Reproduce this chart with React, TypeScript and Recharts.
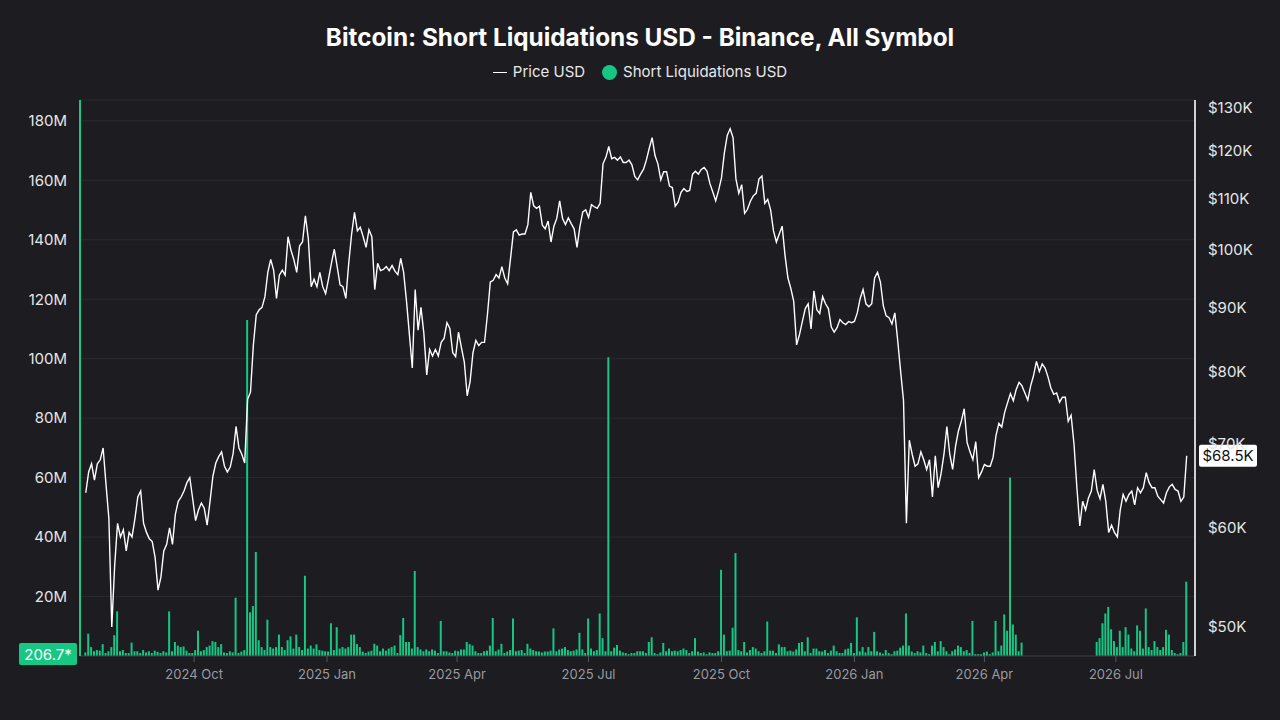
import React from 'react';
import {
  ComposedChart,
  Bar,
  Line,
  XAxis,
  YAxis,
  CartesianGrid,
  ReferenceLine,
} from 'recharts';

const DAY = 86400000;
// one sample every 2 days, first sample 2024-07-18
const startDate = Date.UTC(2024, 6, 18);
const stepDays = 2;

// BTC price, thousands of USD
const priceK = [
  // Jul 18 2024 - Oct 20 2024
  64, 66.5, 67.5, 65.5, 67.5, 68, 69.5, 65, 61, 50, 56, 60.5, 59, 59.8, 57.5, 59.5,
  59, 61, 63.5, 64.2, 60.5, 59.5, 58.8, 58.5, 56.8, 53.5, 54.8, 57.5, 58.2, 60, 58.2, 61.5,
  63, 63.5, 64.2, 65.2, 65.8, 63.3, 60.8, 62, 62.8, 62.2, 60.3, 63, 66, 67.6, 68.4, 69,
  // Oct 22 2024 - Jan 24 2025
  67.2, 66.5, 67.1, 68.8, 72.3, 69.5, 68.7, 67.6, 76, 77, 84, 88.8, 89.6, 90, 91.8, 96,
  98.3, 96.4, 91.5, 95.5, 96.4, 95.5, 102.5, 100, 98.3, 96, 100.8, 101.5, 106.5, 102.2, 93.5, 94.8,
  93.5, 96, 93.5, 92.3, 94.8, 97.6, 100.2, 97, 93.8, 93.5, 91.5, 97.6, 103, 107.2, 103.6, 104.3,
  // Jan 26 2025 - May 2 2025
  102.5, 100.5, 103.8, 102.5, 93, 97.6, 96.3, 96.5, 97, 96.3, 97.2, 96.2, 95.6, 98.5, 96, 91,
  85.6, 80.5, 93, 86.3, 90, 85.8, 79.5, 83.3, 82.3, 83.3, 82.3, 84.4, 85, 87.5, 86.6, 82.8,
  82.2, 86, 83.6, 81.4, 76.5, 78.5, 82.8, 84.7, 83.9, 84.4, 84.4, 88.8, 94.3, 94.6, 95.6, 95, 97,
  // May 4 2025 - Aug 6 2025
  95, 94, 98.5, 103.4, 103.8, 102.8, 103, 103, 104.8, 111.2, 108.5, 108, 108.4, 104.7, 104, 105.5,
  101.5, 104.5, 106, 109.5, 106, 104.8, 106.1, 105, 104, 100.5, 104.4, 107.3, 107.7, 106.2, 108.7, 108.3,
  108, 109, 117.2, 118.6, 121, 118.3, 118.6, 118, 118.7, 117.5, 117.5, 118, 117, 114.5, 113.8, 115,
  // Aug 8 2025 - Nov 12 2025
  116, 118, 120.6, 123, 119, 117.2, 113.8, 115.5, 115.5, 112.5, 112.2, 108.4, 109.2, 111.2, 112, 111.4,
  111.6, 115, 115.6, 115, 116, 116.4, 115.6, 113, 111.3, 109.5, 111.6, 114.2, 119.6, 123.5, 125, 123,
  114, 111, 112.8, 107, 107.8, 109.4, 110.5, 111, 114, 114.6, 109, 109.8, 107.7, 103.6, 101.5, 103, 104.5,
  // Nov 14 2025 - Feb 16 2026
  99, 95, 93.2, 91, 84, 85.6, 87.7, 89.8, 90.6, 86.5, 92.8, 89.6, 89, 91.8, 90.6, 89.8,
  86.8, 86, 86.7, 88, 87.5, 87.2, 87.7, 87.5, 87.7, 89.1, 91.5, 93, 90.6, 90.1, 90.6, 95,
  96, 94.3, 90.3, 88.6, 88.3, 87.3, 89.1, 84.6, 80, 75.8, 60.5, 70.5, 68.7, 67.2, 67.5, 69,
  // Feb 18 2026 - May 25 2026
  68, 66.8, 68, 63.5, 68.5, 64.6, 66.3, 68.7, 72.3, 68.7, 66.8, 69.7, 71.7, 73, 74.7, 70.2,
  69, 68, 70.3, 65.8, 66.5, 67.4, 67.2, 67.2, 68.3, 71.1, 72.7, 72.2, 74.2, 75.5, 76.8, 75.8,
  77.4, 78.4, 77.9, 76.9, 75.9, 77.9, 79.4, 81.5, 80, 81.1, 80.5, 79.2, 77.6, 76.7, 76.9, 75.6, 76.3,
  // May 27 2026 - Aug 19 2026
  76.3, 73, 73.8, 70, 64.6, 60.2, 63, 62, 63.4, 64.2, 66.8, 64.3, 63.3, 65, 63, 59.5,
  60.3, 59.5, 59, 62, 63.8, 63, 63.8, 64.2, 62.6, 64.6, 64, 64.6, 66.4, 65.2, 64.6, 64.6,
  63.6, 63.2, 62.8, 64, 64.7, 65, 64.4, 64.2, 63, 63.5, 68.5,
];

// short liquidations, millions of USD (null = no data)
const shortLiqM = [
  // Jul 18 2024 - Oct 20 2024
  1.2, 7.5, 3, 1.6, 2, 1.8, 4, 1, 1.6, 3, 7, 15, 1.6, 2, 1, 1,
  4.5, 1.6, 1.6, 1, 2, 1.2, 1.6, 1, 1.8, 1.4, 1, 1.6, 1.2, 15, 1.6, 4.7,
  3.5, 3, 3.2, 1.8, 1, 1, 2, 8.5, 1.6, 2, 3, 3.5, 5, 4.7, 3, 4,
  // Oct 22 2024 - Jan 24 2025
  1.2, 1, 1.6, 1.2, 19.6, 1, 1.5, 2, 113, 14.7, 16.8, 35, 5.3, 3, 2, 12.2,
  3, 2.5, 3, 7.2, 3, 2, 5.3, 6.6, 2.5, 7.2, 3, 2, 27, 2.5, 3.5, 2.5,
  3.9, 2, 1.8, 1.6, 1.5, 11, 2, 9.7, 2.5, 3, 2.5, 3, 7.2, 7.2, 4, 3,
  // Jan 26 2025 - May 2 2025
  1.5, 1, 1.5, 1.8, 4.1, 3.5, 1.6, 2.5, 1.8, 2.5, 3, 3.5, 1, 7, 12.8, 4.7,
  4.7, 2.5, 28.6, 3, 2.2, 1.6, 2.2, 1.6, 2.2, 1.8, 1, 11.8, 1.6, 1.6, 1.2, 1,
  1.8, 1.6, 2.2, 2.2, 4.7, 4, 3.5, 1.6, 1, 1, 1.6, 1.8, 3.5, 12.8, 1.6, 2.2, 4.1,
  // May 4 2025 - Aug 6 2025
  1, 1.5, 2, 12.6, 1.6, 1.8, 2, 1, 4.1, 2.5, 2, 1.6, 1.5, 1.2, 1.5, 1.5,
  1.8, 9.3, 1.6, 2.2, 2.5, 3, 2, 1.6, 1.8, 2.2, 7.8, 2.2, 1, 12.6, 2.5, 1.6,
  2, 14.3, 6, 1.6, 100.5, 1.6, 2.8, 3.7, 1.8, 1.2, 1, 0.6, 1, 1, 1.6, 1.6,
  // Aug 8 2025 - Nov 12 2025
  1.6, 1, 4.7, 6.3, 1, 0.6, 1.2, 4.4, 1.6, 2.5, 1.6, 1.8, 1.6, 2, 2.5, 2,
  1, 1.6, 6, 1.5, 1, 1.2, 0.6, 1.2, 1, 1, 1.6, 29, 7.2, 1.6, 1.8, 9.5,
  34.6, 2, 1.6, 4.7, 1.2, 2, 3, 2.5, 1.6, 1, 1.6, 11.6, 1.8, 1.8, 1, 3.9, 3,
  // Nov 14 2025 - Feb 16 2026
  3, 1.6, 1.8, 1.5, 2.2, 4.4, 4.7, 1.6, 6.3, 1, 2.5, 2.5, 1.6, 1.5, 2, 1,
  1.8, 3.5, 1.6, 1, 1, 2.2, 2.5, 4.4, 1, 13, 1.6, 3, 1.2, 3, 1.6, 8.1,
  1.6, 1.2, 0.8, 2, 1, 0.6, 1.6, 1.8, 2.8, 3.5, 14.3, 3.5, 1.5, 1, 1.6, 1.2,
  // Feb 18 2026 - May 25 2026
  3.5, 1, 0.6, 3.5, 4.7, 1.6, 5, 3, 1.6, 0.6, 1.6, 2.2, 3.5, 3, 1.6, 2,
  1, 11.8, 0.6, 0.6, 0.6, 1.2, 1.5, 0.6, 1.2, 11.8, 1.6, 3.5, 14, 8.5, 60, 10.6,
  7.2, 1.6, 4.5, null, null, null, null, null, null, null, null, null, null, null, null, null, null,
  // May 27 2026 - Aug 19 2026
  null, null, null, null, null, null, null, null, null, null, null, 4.7, 6, 11, 14.3, 16.5,
  9, 5, 3, 8.5, 3, 9.7, 7.2, 2.5, 1.6, 10.3, 8.5, 2.5, 16, 3, 2, 5,
  3, 2, 3, 8.8, 7.2, 2, 1, 0.6, 1, 4.7, 25,
];

const tickDates = [
  Date.UTC(2024, 9, 1),
  Date.UTC(2025, 0, 1),
  Date.UTC(2025, 3, 1),
  Date.UTC(2025, 6, 1),
  Date.UTC(2025, 9, 1),
  Date.UTC(2026, 0, 1),
  Date.UTC(2026, 3, 1),
  Date.UTC(2026, 6, 1),
];
const tickLabels = [
  '2024 Oct', '2025 Jan', '2025 Apr', '2025 Jul',
  '2025 Oct', '2026 Jan', '2026 Apr', '2026 Jul',
];
const liqTicks = [20, 40, 60, 80, 100, 120, 140, 160, 180];
const priceTicks = [50, 60, 70, 80, 90, 100, 110, 120, 130];

const lastLiqLabel = '206.7*';
const lastPriceK = 68.5;

const GREEN = '#16c784';
const BG = '#1c1c21';

const data = priceK.map((price, i) => ({
  t: startDate + i * stepDays * DAY,
  price,
  liq: shortLiqM[i],
}));

const xDomain = [Date.UTC(2024, 6, 14), Date.UTC(2026, 7, 24, 18)];

function LiqLabel(props: any) {
  const { x, y } = props.viewBox;
  return (
    <g>
      <rect x={x - 61} y={y - 13} width={58} height={22} rx={2} fill={GREEN} />
      <text x={x - 32} y={y - 2} fill="#fff" fontSize={15} textAnchor="middle" dominantBaseline="central">
        {lastLiqLabel}
      </text>
    </g>
  );
}

function PriceLabel(props: any) {
  const { x, y, width } = props.viewBox;
  const left = x + width + 4;
  return (
    <g>
      <rect x={left} y={y - 11} width={58} height={22} rx={2} fill="#fff" />
      <text x={left + 29} y={y} fill="#111" fontSize={15} textAnchor="middle" dominantBaseline="central">
        {`$${lastPriceK}K`}
      </text>
    </g>
  );
}

export default function App() {
  return (
    <div
      style={{
        position: 'fixed',
        left: 0,
        top: 0,
        width: 1280,
        height: 720,
        background: BG,
        fontFamily: 'Inter, "Noto Sans", sans-serif',
        color: '#fff',
      }}
    >
      <div
        style={{
          position: 'absolute',
          top: 22,
          width: '100%',
          textAlign: 'center',
          fontSize: 24.3,
          lineHeight: '30px',
          fontWeight: 700,
        }}
      >
        Bitcoin: Short Liquidations USD - Binance, All Symbol
      </div>
      <div
        style={{
          position: 'absolute',
          top: 62,
          width: '100%',
          display: 'flex',
          justifyContent: 'center',
          alignItems: 'center',
          fontSize: 15,
          lineHeight: '20px',
          color: '#e8e8e8',
        }}
      >
        <span style={{ display: 'inline-block', width: 14, height: 1, background: '#fff', marginRight: 6 }} />
        <span>Price USD</span>
        <span
          style={{
            display: 'inline-block',
            width: 15,
            height: 15,
            borderRadius: '50%',
            background: GREEN,
            marginLeft: 17,
            marginRight: 6,
          }}
        />
        <span>Short Liquidations USD</span>
      </div>
      <ComposedChart width={1280} height={720} data={data} margin={{ top: 100, right: 0, bottom: 0, left: 0 }}>
        <CartesianGrid yAxisId="left" vertical={false} stroke="#2a2a30" />
        <XAxis
          dataKey="t"
          type="number"
          domain={xDomain}
          allowDataOverflow
          ticks={tickDates}
          tickFormatter={(v: number) => tickLabels[tickDates.indexOf(v)]}
          height={64}
          axisLine={{ stroke: '#3a3a40' }}
          tickLine={{ stroke: '#55555c' }}
          tickSize={6}
          tickMargin={8}
          tick={{ fill: '#9a9aa0', fontSize: 13 }}
        />
        <YAxis
          yAxisId="left"
          orientation="left"
          width={80}
          domain={[0, 187]}
          allowDataOverflow
          ticks={liqTicks}
          tickFormatter={(v: number) => `${v}M`}
          axisLine={{ stroke: GREEN, strokeWidth: 2 }}
          tickLine={false}
          tickSize={6}
          tickMargin={7}
          tick={{ fill: '#e6e6e6', fontSize: 15 }}
        />
        <YAxis
          yAxisId="right"
          orientation="right"
          width={85}
          scale="log"
          domain={[47.4, 131.8]}
          allowDataOverflow
          ticks={priceTicks}
          tickFormatter={(v: number) => `$${v}K`}
          axisLine={{ stroke: '#d0d0d0', strokeWidth: 2 }}
          tickLine={false}
          tickSize={6}
          tickMargin={7}
          tick={{ fill: '#e6e6e6', fontSize: 15, textAnchor: 'start' }}
        />
        <Bar yAxisId="left" dataKey="liq" fill={GREEN} barSize={2} isAnimationActive={false} />
        <Line
          yAxisId="right"
          dataKey="price"
          type="linear"
          stroke="#ffffff"
          strokeWidth={1.4}
          dot={false}
          isAnimationActive={false}
        />
        <ReferenceLine yAxisId="left" y={0} stroke="none" label={(p: any) => <LiqLabel {...p} />} />
        <ReferenceLine yAxisId="right" y={lastPriceK} stroke="none" label={(p: any) => <PriceLabel {...p} />} />
      </ComposedChart>
    </div>
  );
}
